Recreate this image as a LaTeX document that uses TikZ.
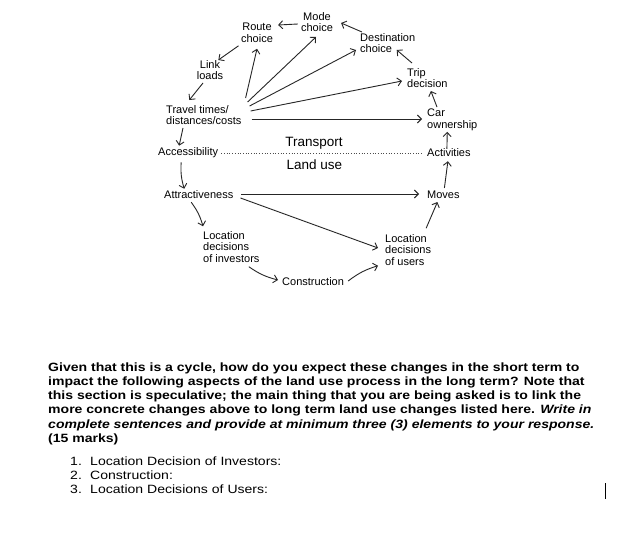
\documentclass[tikz,border=0pt]{standalone}
\usepackage{fontspec}
\setmainfont{Liberation Sans}
\newfontfamily\qfont[FakeStretch=1.17]{Liberation Sans}
\usetikzlibrary{arrows.meta,calc}
\begin{document}
\begin{tikzpicture}[x=1pt,y=-1pt,>={Straight Barb[length=4pt,width=8pt]},
  lbl/.style={font=\fontsize{11}{11.5}\selectfont,inner sep=0pt,align=left,anchor=west},
  big/.style={font=\fontsize{13.5}{14}\selectfont,inner sep=0pt},
  link/.style={line width=0.9pt,black!85},
  body/.style={font=\qfont\fontsize{12}{14}\selectfont\bfseries,inner sep=0pt,anchor=base west}]
\useasboundingbox[fill=white] (0,0) rectangle (630,538);
% Nodes of the cycle
\node[lbl,align=center,anchor=center] (mode) at (317,22) {Mode\\choice};
\node[lbl,align=center,anchor=center] (route) at (257,33) {Route\\choice};
\node[lbl] (dest) at (360,43) {Destination\\choice};
\node[lbl,align=center,anchor=center] (loads) at (210,70) {Link\\loads};
\node[lbl] (trip) at (407,78) {Trip\\decision};
\node[lbl] (travel) at (166,115) {Travel times/\\distances/costs};
\node[lbl] (car) at (427,120) {Car\\ownership};
\node[lbl] (access) at (158,153) {Accessibility};
\node[lbl] (activ) at (427,153) {Activities};
\node[lbl] (attract) at (164,195) {Attractiveness};
\node[lbl] (moves) at (427,195) {Moves};
\node[lbl] (investors) at (203,247) {Location\\decisions\\of investors};
\node[lbl] (users) at (385,250) {Location\\decisions\\of users};
\node[lbl] (constr) at (282,282) {Construction};
\node[big] (transport) at (314,143) {Transport};
\node[big] (landuse) at (314.5,165) {Land use};
% Arrows round the cycle
\draw[link,->] ($(mode.west)+(-3,2)$) -- ($(route.east)+(5,-8)$);
\draw[link,->] ($(dest.north west)+(2,-1)$) -- ($(mode.east)+(8,1)$);
\draw[link,->] ($(trip.north west)+(5,-5)$) -- ($(dest.south)+(9,-3)$);
\draw[link,->] ($(car.north west)+(10,-2)$) -- ($(trip.south)+(3.5,3)$);
\draw[link,->] ($(activ.north)+(-2,0)$) -- ($(car.south)+(-5,1)$);
\draw[link,->] ($(moves.north)+(1,-3)$) -- ($(activ.south)+(-1,4)$);
\draw[link,->] ($(users.north)+(18,-6)$) -- ($(moves.south)+(-6,3)$);
\draw[link,->] ($(constr.east)+(4,-1)$) to[bend left=10] ($(users.south west)+(-7,0)$);
\draw[link,->] ($(investors.south)+(17.5,4)$) to[bend right=10] ($(constr.west)+(-4,-2)$);
\draw[link,->] ($(attract.south)+(-7.5,3)$) to[bend left=10] ($(investors.north west)+(0,-5)$);
\draw[link,->] ($(access.south)+(-7,4)$) to[bend right=10] ($(attract.north)+(-14.5,-2)$);
\draw[link,->] ($(travel.south west)+(17,3)$) -- ($(access.north)+(-9,-2)$);
\draw[link,->] ($(loads.south)+(-7,3)$) -- ($(travel.north)+(-14.5,-5)$);
\draw[link,->] ($(route.south)+(-18.5,3)$) -- ($(loads.north east)+(-5,0)$);
% Fan out of travel times
\draw[link,->] ($(travel.north east)+(4,-7)$) -- ($(route.south)+(0,6)$);
\draw[link,->] ($(travel.east)+(6,-13)$) -- ($(mode.south)+(-1,5)$);
\draw[link,->] ($(travel.east)+(8,-9)$) -- ($(dest.west)+(-4,7)$);
\draw[link,->] ($(travel.east)+(9,-4)$) -- ($(trip.west)+(-5,3)$);
\draw[link,->] ($(travel.east)+(10,4)$) -- ($(car.west)+(-5,-1)$);
% Transport / land use border
\draw[black!70,dotted,line width=0.7pt] ($(access.east)+(3,0)$) -- ($(activ.west)+(-5,0)$);
\draw[link,->] ($(attract.east)+(8,-1)$) -- ($(moves.west)+(-8,-1)$);
\draw[link,->] ($(attract.east)+(7,3)$) -- ($(users.west)+(-7,-2)$);
% Question text
\foreach \t [count=\i] in {{Given that this is a cycle, how do you expect these changes in the short term to},
  {impact the following aspects of the land use process in the long term? Note that},
  {this section is speculative; the main thing that you are being asked is to link the},
  {more concrete changes above to long term land use changes listed here. \textit{Write in}},
  {\textit{complete sentences and provide at minimum three (3) elements to your response.}},
  {(15 marks)}}
  \node[body] (q\i) at (48,{371+14.3*(\i-1)}) {\t};
\foreach \t [count=\i] in {{Location Decision of Investors:},{Construction:},{Location Decisions of Users:}}{
  \node[body,font=\qfont\fontsize{12}{14}\selectfont] (n\i) at (70,{465.5+14*(\i-1)}) {\i.};
  \node[body,font=\qfont\fontsize{12}{14}\selectfont] (item\i) at (90,{465.5+14*(\i-1)}) {\t};
}
\coordinate (cur1) at (605.7,483);
\coordinate (cur2) at (605.7,499);
\draw[line width=0.6pt] (cur1) -- (cur2);
\end{tikzpicture}
\end{document}
